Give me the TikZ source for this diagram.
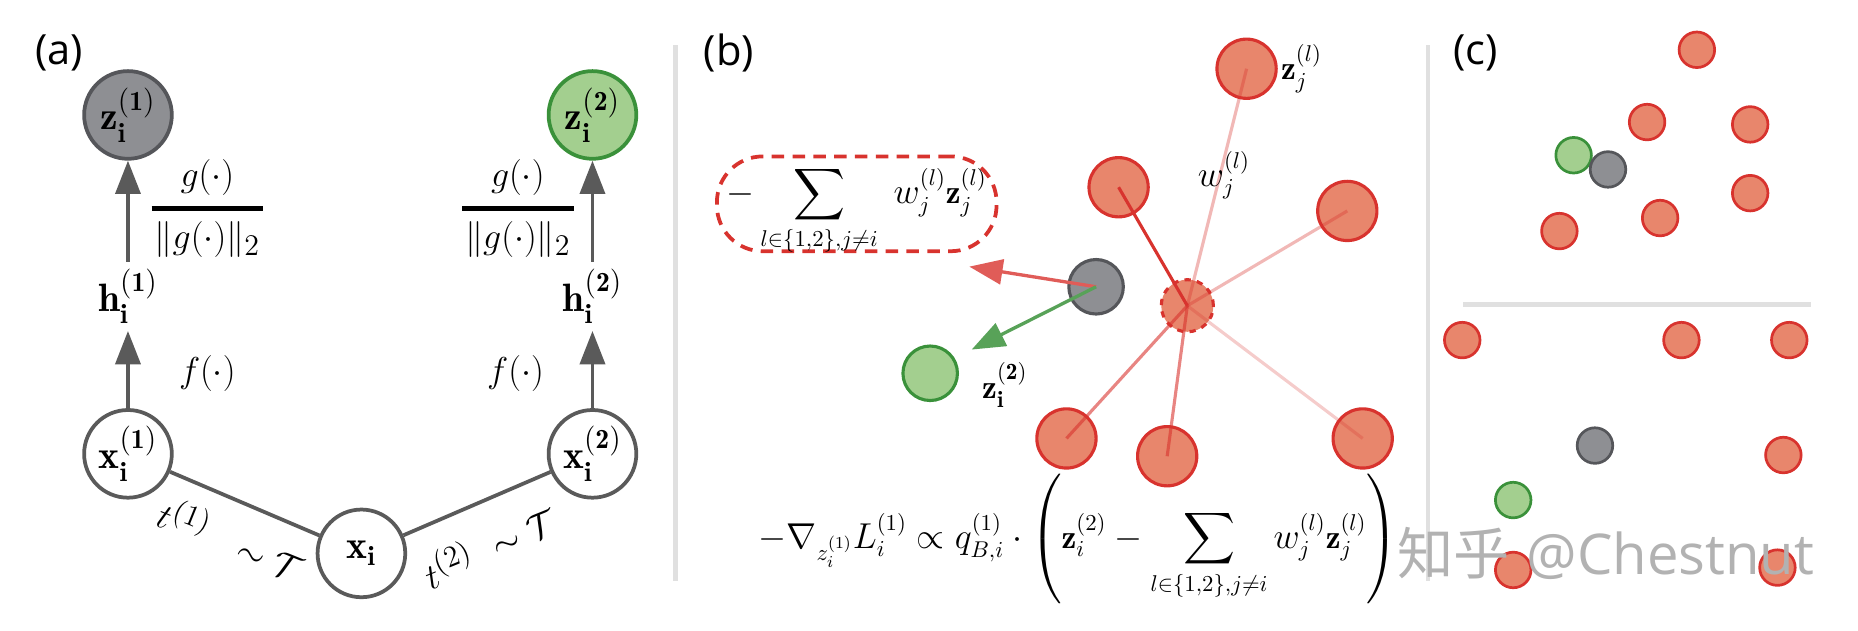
\documentclass[tikz,border=0pt]{standalone}
\usepackage{amsmath}
\usepackage{fontspec}
\newfontfamily\cjk{Noto Sans CJK SC}
\newfontfamily\lab{Open Sans}
\usetikzlibrary{arrows.meta}
\definecolor{gfill}{HTML}{8E8F93}\definecolor{gdraw}{HTML}{55565A}
\definecolor{grfill}{HTML}{A3CF8F}\definecolor{grdraw}{HTML}{3A913A}
\definecolor{rfill}{HTML}{E8866C}\definecolor{rdraw}{HTML}{D8332E}
\definecolor{edge}{HTML}{5A5A5A}
\begin{document}
\begin{tikzpicture}[x=0.02cm,y=-0.02cm,font=\fontsize{16}{19}\selectfont,
 big/.style={font=\fontsize{19}{22}\selectfont},
 wnode/.style={circle,draw=edge,line width=1.8pt,fill=white,minimum size=74*0.02cm,inner sep=0pt,big},
 gnode/.style={circle,draw=gdraw,line width=1.8pt,fill=gfill,minimum size=74*0.02cm,inner sep=0pt,big},
 grnode/.style={circle,draw=grdraw,line width=1.8pt,fill=grfill,minimum size=74*0.02cm,inner sep=0pt,big},
 rbig/.style={circle,draw=rdraw,line width=1.5pt,fill=rfill,minimum size=50*0.02cm,inner sep=0pt},
 gbig/.style={circle,draw=gdraw,line width=1.5pt,fill=gfill,minimum size=46*0.02cm,inner sep=0pt},
 grbig/.style={circle,draw=grdraw,line width=1.5pt,fill=grfill,minimum size=46*0.02cm,inner sep=0pt},
 rdot/.style={circle,draw=rdraw,line width=1.3pt,fill=rfill,minimum size=30*0.02cm,inner sep=0pt},
 gdot/.style={circle,draw=gdraw,line width=1.3pt,fill=gfill,minimum size=30*0.02cm,inner sep=0pt},
 grdot/.style={circle,draw=grdraw,line width=1.3pt,fill=grfill,minimum size=30*0.02cm,inner sep=0pt},
 conn/.style={draw=edge,line width=1.8pt},
 arr/.style={conn,-{Triangle[length=16pt,width=12pt]}},
 divider/.style={draw=black!12,line width=2pt},
 plab/.style={font=\lab\fontsize{20}{24}\selectfont},
 spoke/.style={draw=rdraw,line width=1.5pt}]
\useasboundingbox (0,0) rectangle (1568,532);
% dividers
\draw[divider] (570,38) -- (570,490);
\draw[divider] (1205,38) -- (1205,490);
\draw[divider] (1235,257) -- (1528,257);
% panel a
\node[plab] (la) at (50,45) {(a)};
\node[gnode] (z1) at (108,97) {$\mathbf{z}_{\mathbf{i}}^{(\mathbf{1})}$};
\node[grnode] (z2) at (500,97) {$\mathbf{z}_{\mathbf{i}}^{(\mathbf{2})}$};
\node[big] (h1) at (108,250) {$\mathbf{h}_{\mathbf{i}}^{(\mathbf{1})}$};
\node[big] (h2) at (500,250) {$\mathbf{h}_{\mathbf{i}}^{(\mathbf{2})}$};
\node[wnode] (x1) at (108,383) {$\mathbf{x}_{\mathbf{i}}^{(\mathbf{1})}$};
\node[wnode] (x2) at (500,383) {$\mathbf{x}_{\mathbf{i}}^{(\mathbf{2})}$};
\node[wnode] (xi) at (305,467) {$\mathbf{x}_{\mathbf{i}}$};
\draw[arr] (h1) -- (z1);
\draw[arr] (h2) -- (z2);
\draw[arr] (x1) -- (h1);
\draw[arr] (x2) -- (h2);
\draw[conn] (x1) -- (xi);
\draw[conn] (xi) -- (x2);
\node[big,anchor=south] (gn1) at (175,171) {$g(\cdot)$};
\node[big,anchor=north] (gd1) at (175,181) {$\|g(\cdot)\|_2$};
\node[big,anchor=south] (gn2) at (437,171) {$g(\cdot)$};
\node[big,anchor=north] (gd2) at (437,181) {$\|g(\cdot)\|_2$};
\draw[line width=2.5pt] (128,176) -- (222,176);
\draw[line width=2.5pt] (390,176) -- (484,176);
\node[big] (f1) at (175,315) {$f(\cdot)$};
\node[big] (f2) at (435,315) {$f(\cdot)$};
\node[big,rotate=-22] (t1) at (156,438) {$t^{(1)}$};
\node[big,rotate=-22] (T1) at (228,472) {$\sim\mathcal{T}$};
\node[big,rotate=22] (t2) at (378,476) {$t^{(2)}$};
\node[big,rotate=22] (T2) at (442,450) {$\sim\mathcal{T}$};
% panel b
\node[plab] (lb) at (615,45) {(b)};
\coordinate (c) at (1002,258);
\node[rbig] (r1) at (1052,58) {};
\node[rbig] (r2) at (944,158) {};
\node[rbig] (r3) at (1137,178) {};
\node[rbig] (r4) at (900,370) {};
\node[rbig] (r5) at (985,385) {};
\node[rbig] (r6) at (1150,370) {};
\node[circle,draw=rdraw,dashed,line width=1.5pt,fill=rfill,minimum size=44*0.02cm] (ctr) at (c) {};
\draw[spoke,draw opacity=0.35] (c) -- (r1.center);
\draw[spoke] (c) -- (r2.center);
\draw[spoke,draw opacity=0.35] (c) -- (r3.center);
\draw[spoke,draw opacity=0.6] (c) -- (r4.center);
\draw[spoke,draw opacity=0.6] (c) -- (r5.center);
\draw[spoke,draw opacity=0.25] (c) -- (r6.center);
\node[anchor=west] (zl) at (1075,58) {$\mathbf{z}_j^{(l)}$};
\node (wl) at (1033,148) {$w_j^{(l)}$};
\node[gbig] (gz) at (925,242) {};
\node[grbig] (gr) at (785,315) {};
\node (z2b) at (848,325) {$\mathbf{z}_{\mathbf{i}}^{(\mathbf{2})}$};
\node[draw=rdraw,dashed,dash pattern=on 6pt off 4pt,line width=1.8pt,rounded corners=22pt,minimum width=236*0.02cm,minimum height=80*0.02cm] (box) at (723,172) {};
\node (sumtxt) at (723,178) {$-\displaystyle\sum_{l\in\{1,2\},j\neq i}\ w_j^{(l)}\mathbf{z}_j^{(l)}$};
\coordinate (ra) at (818,225);
\coordinate (ga) at (820,295);
\draw[draw=rdraw!80,line width=1.6pt,-{Triangle[length=16pt,width=12pt]}] (gz.center) -- (ra);
\draw[draw=grdraw!85,line width=1.6pt,-{Triangle[length=16pt,width=12pt]}] (gz.center) -- (ga);
\node (eq) at (910,455) {$-\nabla_{z_i^{(1)}}L_i^{(1)}\propto q_{B,i}^{(1)}\cdot\left(\mathbf{z}_i^{(2)}-\displaystyle\sum_{l\in\{1,2\},j\neq i} w_j^{(l)}\mathbf{z}_j^{(l)}\right)$};
% panel c
\node[plab] (lc) at (1245,45) {(c)};
\node[rdot] (c1) at (1432,42) {};
\node[rdot] (c2) at (1390,103) {};
\node[rdot] (c3) at (1477,105) {};
\node[grdot] (c4) at (1328,131) {};
\node[gdot] (c5) at (1357,143) {};
\node[rdot] (c6) at (1477,163) {};
\node[rdot] (c7) at (1401,184) {};
\node[rdot] (c8) at (1316,195) {};
\node[rdot] (d1) at (1234,287) {};
\node[rdot] (d2) at (1419,287) {};
\node[rdot] (d3) at (1510,287) {};
\node[gdot] (d4) at (1346,376) {};
\node[rdot] (d5) at (1505,384) {};
\node[grdot] (d6) at (1277,422) {};
\node[rdot] (d7) at (1277,481) {};
\node[rdot] (d8) at (1500,479) {};
\node[text=black!30,font=\fontsize{27}{30}\selectfont] (wm) at (1355,467) {{\cjk 知乎} {\lab @Chestnut}};
\end{tikzpicture}
\end{document}
